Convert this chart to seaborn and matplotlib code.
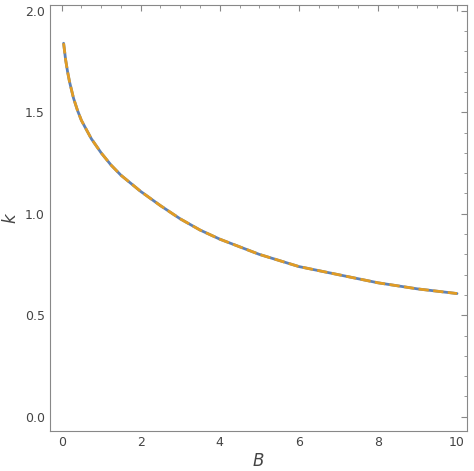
import numpy as np
import pandas as pd
import matplotlib
matplotlib.use("Agg")
import matplotlib.pyplot as plt
import seaborn as sns

# values
B = [0.05, 0.1, 0.15, 0.2, 0.3, 0.4, 0.5, 0.75, 1.0, 1.25, 1.5, 2.0, 2.5, 3.0, 3.5, 4.0, 5.0, 6.0, 7.0, 8.0, 9.0, 10.0]
k = [1.84, 1.76, 1.70, 1.65, 1.57, 1.51, 1.46, 1.37, 1.30, 1.24, 1.19, 1.11, 1.04, 0.975, 0.92, 0.875, 0.80, 0.74, 0.70, 0.66, 0.63, 0.607]

df = pd.DataFrame({"B": B, "k": k})

sns.set_style("white")
fig, ax = plt.subplots(figsize=(4.74, 4.71), dpi=100)
fig.subplots_adjust(left=0.105, right=0.985, bottom=0.085, top=0.99)

sns.lineplot(data=df, x="B", y="k", ax=ax, color="#5E81B5", lw=2)
sns.lineplot(data=df, x="B", y="k", ax=ax, color="#E19C24", lw=2, dashes=(3, 3), linestyle="--")

ax.set_xlim(-0.3, 10.25)
ax.set_ylim(-0.07, 2.03)
ax.set_xticks([0, 2, 4, 6, 8, 10])
ax.set_yticks([0.0, 0.5, 1.0, 1.5, 2.0])
ax.set_yticklabels(["0.0", "0.5", "1.0", "1.5", "2.0"])
ax.set_xlabel("B", style="italic", fontsize=12, color="#444444", labelpad=2)
ax.set_ylabel("k", style="italic", fontsize=12, color="#444444", labelpad=4)
ax.tick_params(direction="in", length=4, color="#888888", labelcolor="#444444", labelsize=9)
ax.xaxis.set_minor_locator(matplotlib.ticker.MultipleLocator(0.5))
ax.yaxis.set_minor_locator(matplotlib.ticker.MultipleLocator(0.1))
ax.tick_params(which="minor", direction="in", length=2, color="#888888")
ax.tick_params(top=True, right=True, which="both", labeltop=False, labelright=False)
for s in ax.spines.values():
    s.set_color("#888888")
    s.set_linewidth(0.8)

fig.savefig("out.png", dpi=100)
